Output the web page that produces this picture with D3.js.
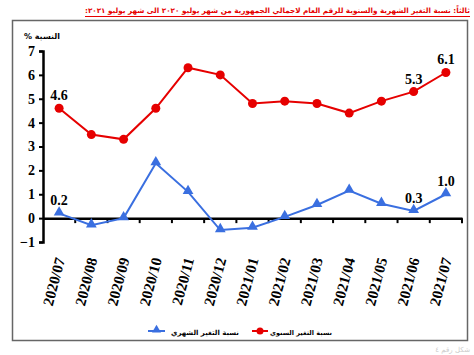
<!DOCTYPE html>
<html>
<head>
<meta charset="utf-8">
<script src="https://cdn.jsdelivr.net/npm/d3@7"></script>
<style>
  body { margin: 0; background: #fff; }
  svg { display: block; }
</style>
</head>
<body>
<svg width="474" height="355"></svg>
<script>
// months on the x axis
var months = ["2020/07", "2020/08", "2020/09", "2020/10", "2020/11", "2020/12",
              "2021/01", "2021/02", "2021/03", "2021/04", "2021/05", "2021/06", "2021/07"];

// annual change % (red)
var annual = [4.6, 3.5, 3.3, 4.6, 6.3, 6.0, 4.8, 4.9, 4.8, 4.4, 4.9, 5.3, 6.1];

// monthly change % (blue)
var monthly = [0.2, -0.3, 0.0, 2.3, 1.1, -0.5, -0.4, 0.05, 0.55, 1.15, 0.6, 0.3, 1.0];

var yTicks = [-1, 0, 1, 2, 3, 4, 5, 6, 7];

// which points get a value label
var annualLabels = [0, 11, 12];
var monthlyLabels = [0, 11, 12];

var titleText = "ثالثاً: نسبة التغير الشهرية والسنوية للرقم العام لاجمالي الجمهورية من شهر يوليو ٢٠٢٠ الى شهر يوليو ٢٠٢١:";
var yTitle = "النسبة %";
var legendAnnual = "نسبة التغير السنوي";
var legendMonthly = "نسبة التغير الشهري";

var svg = d3.select("svg");

var red = "#e60000",
    blue = "#3a6fe0";

//the outer frame
svg.append("rect")
    .attr("x", 12.5).attr("y", 20.5)
    .attr("width", 455).attr("height", 320)
    .attr("fill", "none")
    .attr("stroke", "#666")
    .attr("stroke-width", 1.5);

//arabic text helper: right to left, anchored on its right edge
//shrinks the font until the natural width fits the wanted length
function rtlText(sel, xx, yy, str, size, len) {
    var t = sel.append("text")
        .attr("x", xx).attr("y", yy)
        .attr("direction", "rtl")
        .attr("text-anchor", "start")
        .attr("font-family", "DejaVu Sans, sans-serif")
        .attr("font-size", size)
        .text(str);
    if (len) {
        var w = t.node().getComputedTextLength();
        if (w > len) t.attr("font-size", size * len / w);
        t.attr("textLength", len).attr("lengthAdjust", "spacingAndGlyphs");
    }
    return t;
}

//title, red underlined
var title = svg.append("g").attr("font-weight", "bold").attr("fill", red);
rtlText(title, 470, 13, titleText, 9.5, 385);
svg.append("line")
    .attr("x1", 85).attr("x2", 470)
    .attr("y1", 16.5).attr("y2", 16.5)
    .attr("stroke", red).attr("stroke-width", 1);

//scales
var x = d3.scaleBand()
    .domain(months)
    .range([43, 462]);

var y = d3.scaleLinear()
    .domain([-1, 7])
    .range([242, 51]);

var cx = function (d, i) { return x(months[i]) + x.bandwidth() / 2; };

//y axis
var yAxis = svg.append("g")
    .attr("transform", "translate(43,0)")
    .call(d3.axisLeft(y).tickValues(yTicks).tickSize(4).tickFormat(d3.format("d")));
yAxis.select(".domain").attr("stroke", "#000").attr("stroke-width", 2.5);
yAxis.selectAll(".tick line").attr("stroke", "#000").attr("stroke-width", 2);
yAxis.selectAll(".tick text")
    .attr("x", -8)
    .attr("font-family", "Liberation Serif, serif")
    .attr("font-weight", "bold")
    .attr("font-size", 14)
    .attr("fill", "#000");

//y title
var yt = svg.append("g").attr("font-weight", "bold");
rtlText(yt, 60, 39, yTitle, 10, 36);

//x axis at zero
var xAxis = svg.append("g")
    .attr("transform", "translate(0," + y(0) + ")")
    .call(d3.axisBottom(x).tickSize(0).tickFormat(""));
xAxis.select(".domain").attr("stroke", "#000").attr("stroke-width", 2.5);

// tick marks on band boundaries
svg.append("g")
    .selectAll("line")
    .data(months)
    .enter().append("line")
    .attr("x1", function (d) { return x(d) + x.bandwidth(); })
    .attr("x2", function (d) { return x(d) + x.bandwidth(); })
    .attr("y1", y(0))
    .attr("y2", y(0) + 5)
    .attr("stroke", "#000")
    .attr("stroke-width", 2);

// rotated month labels
svg.append("g")
    .selectAll("text")
    .data(months)
    .enter().append("text")
    .attr("transform", function (d) {
        return "translate(" + (x(d) + x.bandwidth() / 2 + 1) + ",258) rotate(-75)";
    })
    .attr("text-anchor", "end")
    .attr("dy", "0.35em")
    .attr("font-family", "Liberation Serif, serif")
    .attr("font-weight", "bold")
    .attr("font-size", 15)
    .text(function (d) { return d; });

//lines
var line = d3.line()
    .x(cx)
    .y(function (d) { return y(d); });

svg.append("path")
    .datum(annual)
    .attr("d", line)
    .attr("fill", "none")
    .attr("stroke", red)
    .attr("stroke-width", 2);

svg.append("path")
    .datum(monthly)
    .attr("d", line)
    .attr("fill", "none")
    .attr("stroke", blue)
    .attr("stroke-width", 2);

//markers
svg.append("g")
    .selectAll("circle")
    .data(annual)
    .enter().append("circle")
    .attr("cx", cx)
    .attr("cy", function (d) { return y(d); })
    .attr("r", 4.5)
    .attr("fill", red);

var tri = d3.symbol().type(d3.symbolTriangle).size(50);
svg.append("g")
    .selectAll("path")
    .data(monthly)
    .enter().append("path")
    .attr("d", tri)
    .attr("transform", function (d, i) { return "translate(" + cx(d, i) + "," + (y(d) - 1) + ")"; })
    .attr("fill", blue);

//value labels
function addLabels(values, idx) {
    svg.append("g")
        .selectAll("text")
        .data(idx)
        .enter().append("text")
        .attr("x", function (i) { return cx(values[i], i); })
        .attr("y", function (i) { return y(values[i]) - 8; })
        .attr("text-anchor", "middle")
        .attr("font-family", "Liberation Serif, serif")
        .attr("font-weight", "bold")
        .attr("font-size", 14)
        .text(function (i) { return values[i].toFixed(1); });
}
addLabels(annual, annualLabels);
addLabels(monthly, monthlyLabels);

//legend
var legend = svg.append("g")
    .attr("font-weight", "bold");

legend.append("line")
    .attr("x1", 252).attr("x2", 268).attr("y1", 331).attr("y2", 331)
    .attr("stroke", red).attr("stroke-width", 2);
legend.append("circle")
    .attr("cx", 260).attr("cy", 331).attr("r", 3.5).attr("fill", red);
rtlText(legend, 332, 334.5, legendAnnual, 9.5, 62);

legend.append("line")
    .attr("x1", 148).attr("x2", 165).attr("y1", 331).attr("y2", 331)
    .attr("stroke", blue).attr("stroke-width", 2);
legend.append("path")
    .attr("d", d3.symbol().type(d3.symbolTriangle).size(35))
    .attr("transform", "translate(156.5,330)")
    .attr("fill", blue);
rtlText(legend, 239, 334.5, legendMonthly, 9.5, 68);

// faint caption bottom right
rtlText(svg, 470, 352, "شكل رقم ٤", 7)
    .attr("fill", "#ccc");
</script>
</body>
</html>
